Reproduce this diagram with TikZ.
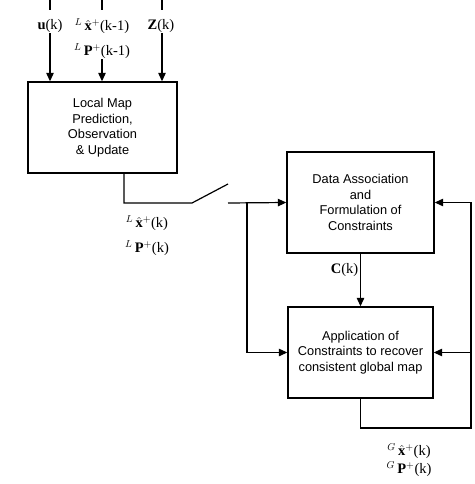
\documentclass[tikz,border=0pt]{standalone}
\usepackage{fontspec}
\setmainfont{Liberation Serif}
\setsansfont{Liberation Sans}
\usetikzlibrary{arrows.meta}
\begin{document}
\begin{tikzpicture}[x=1pt,y=-1pt,
	block/.style={draw,line width=1.4pt,fill=white,align=center,inner sep=0pt,
		font=\sffamily\fontsize{12.8}{15.5}\selectfont},
	wire/.style={line width=1.2pt},
	feed/.style={wire,-{Triangle[length=8.5pt,width=7.5pt]}},
	lab/.style={inner sep=0.5pt,font=\fontsize{14.5}{16}\selectfont}]
	\useasboundingbox (0,0) rectangle (474,484);
	
	% Blokkene
	\node[block,minimum width=149pt,minimum height=91pt] (local) at (102.5,127.5)
		{Local Map\\Prediction,\\Observation\\\& Update};
	\node[block,minimum width=147pt,minimum height=101pt] (data) at (360.5,202.5)
		{Data Association\\and\\Formulation of\\Constraints};
	\node[block,minimum width=145pt,minimum height=91pt] (apply) at (360.5,352.5)
		{Application of\\Constraints to recover\\consistent global map};
	
	% Inngangene til lokal kart
	\node[lab] (ulab) at (50,26) {\textbf{u}(k)};
	\node[lab] (xlab) at (102,26) {${}^{L}\,\hat{\mathbf{x}}^{+}$(k-1)};
	\node[lab] (plab) at (102,51) {${}^{L}\,\mathbf{P}^{+}$(k-1)};
	\node[lab] (zlab) at (161,26) {\textbf{Z}(k)};
	\coordinate (utop) at (50,0);
	\coordinate (uend) at (50,10);
	\coordinate (xtop) at (102,0);
	\coordinate (xend) at (102,10);
	\coordinate (ztop) at (162,0);
	\coordinate (zend) at (162,10);
	\draw[wire] (utop) -- (uend);
	\draw[wire] (xtop) -- (xend);
	\draw[wire] (ztop) -- (zend);
	\draw[feed] (ulab.south) -- (ulab.south |- local.north);
	\draw[feed] (plab.south) -- (plab.south |- local.north);
	\draw[feed] ([xshift=1pt]zlab.south) -- ([xshift=1pt]zlab.south |- local.north);
	
	% Bryteren
	\coordinate (sw0) at (124,203);
	\coordinate (sw1) at (192,203);
	\coordinate (sw2) at (228,184);
	\coordinate (sw3) at (228,203);
	\coordinate (jl) at (247,203);
	\draw[wire] (local.south -| sw0) -- (sw0) -- (sw1) -- (sw2);
	\draw[feed] (sw3) -- (data.west);
	\draw[feed] (jl) -- (jl |- apply.west) -- (apply.west);
	\node[lab] (lx) at (147,223) {${}^{L}\,\hat{\mathbf{x}}^{+}$(k)};
	\node[lab] (lp) at (147,248) {${}^{L}\,\mathbf{P}^{+}$(k)};
	
	% Begrensningene
	\draw[feed] (data.south) -- (apply.north);
	\node[lab,anchor=east] (clab) at (359,270) {\textbf{C}(k)};
	
	% Tilbakekoblingen
	\coordinate (lb) at (360.5,428);
	\coordinate (rb) at (471,428);
	\coordinate (rt) at (471,202.5);
	\draw[feed] (apply.south) -- (lb) -- (rb) -- (rt) -- (data.east);
	\draw[feed] (rb |- apply.east) -- (apply.east);
	
	% Globalt kart
	\node[lab] (gx) at (409,451) {${}^{G}\,\hat{\mathbf{x}}^{+}$(k)};
	\node[lab] (gp) at (409,469) {${}^{G}\,\mathbf{P}^{+}$(k)};
\end{tikzpicture}
\end{document}
